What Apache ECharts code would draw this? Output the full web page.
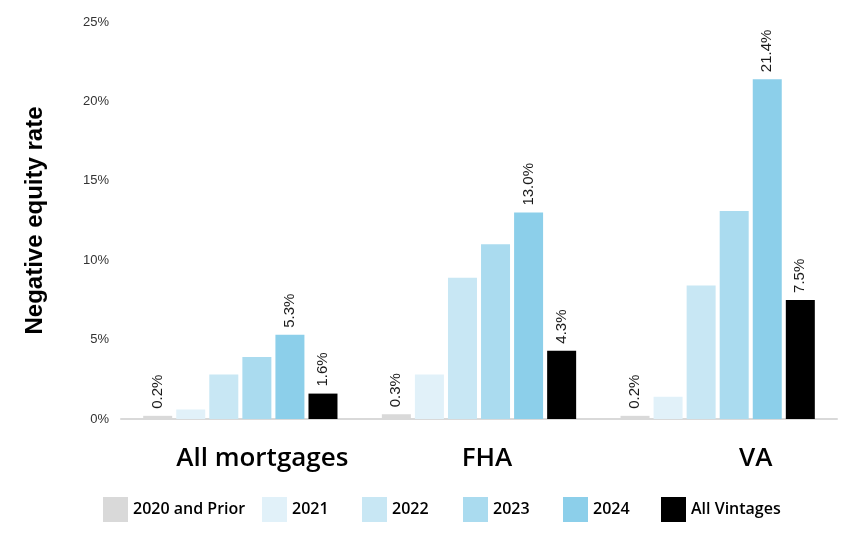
<!DOCTYPE html>
<html>
<head>
<meta charset="utf-8">
<script src="https://cdn.jsdelivr.net/npm/echarts@6/dist/echarts.min.js"></script>
<style>
  html, body { margin: 0; padding: 0; background: #fff; }
  #main { width: 847px; height: 551px; }
</style>
</head>
<body>
<div id="main"></div>
<script>
// chart data
var categories = ['All mortgages', 'FHA', 'VA'];
var vintages = ['2020 and Prior', '2021', '2022', '2023', '2024', 'All Vintages'];
var v2020 = [0.2, 0.3, 0.2];
var v2021 = [0.6, 2.8, 1.4];
var v2022 = [2.8, 8.9, 8.4];
var v2023 = [3.9, 11.0, 13.1];
var v2024 = [5.3, 13.0, 21.4];
var vAll = [1.6, 4.3, 7.5];
var yTicks = [0, 5, 10, 15, 20, 25];

var colors = ['#d9d9d9', '#e1f1f9', '#c8e7f4', '#aadbef', '#8ccfea', '#000000'];
var values = [v2020, v2021, v2022, v2023, v2024, vAll];
var withLabel = [true, false, false, false, true, true];
// left edge of each legend entry (one legend per entry so spacing can match)
var legendLeft = [98, 257, 357, 458, 558, 656];

var chart = echarts.init(document.getElementById('main'));

var series = vintages.map(function (name, i) {
  return {
    name: name,
    type: 'bar',
    data: values[i],
    barWidth: 29,
    barGap: '14%',
    itemStyle: { color: colors[i] },
    label: {
      show: withLabel[i],
      position: 'top',
      rotate: 90,
      align: 'left',
      verticalAlign: 'middle',
      distance: 7,
      fontFamily: 'Arial, Liberation Sans',
      fontSize: 15,
      color: '#1a1a1a',
      formatter: function (p) { return p.value.toFixed(1) + '%'; }
    }
  };
});

var legends = vintages.map(function (name, i) {
  return {
    data: [name],
    left: legendLeft[i],
    top: 492,
    itemWidth: 25,
    itemHeight: 25,
    icon: 'rect',
    textStyle: {
      fontFamily: 'Open Sans',
      fontWeight: 600,
      fontSize: 16,
      color: '#000'
    }
  };
});

var catStyle = function (pad) {
  return { fontFamily: 'Open Sans', fontWeight: 600, fontSize: 26, color: '#000', padding: [0, 0, 0, pad] };
};

var option = {
  animation: false,
  grid: { left: 121, right: 10, top: 22, bottom: 132 },
  legend: legends,
  xAxis: {
    type: 'category',
    data: categories,
    axisLine: { lineStyle: { color: '#d9d9d9', width: 2 } },
    axisTick: { show: false },
    axisLabel: {
      margin: 27,
      formatter: function (v, i) { return '{' + ['a', 'b', 'c'][i] + '|' + v + '}'; },
      rich: {
        a: catStyle(44),
        b: catStyle(16),
        c: catStyle(76)
      }
    }
  },
  yAxis: {
    type: 'value',
    min: yTicks[0],
    max: yTicks[yTicks.length - 1],
    interval: 5,
    name: 'Negative equity rate',
    nameLocation: 'middle',
    nameGap: 74,
    nameTextStyle: {
      fontFamily: 'Arial, Liberation Sans',
      fontWeight: 'bold',
      fontSize: 24,
      color: '#000'
    },
    splitLine: { show: false },
    axisLine: { show: false },
    axisTick: { show: false },
    axisLabel: {
      margin: 12,
      fontFamily: 'Arial, Liberation Sans',
      fontSize: 13,
      color: '#333',
      formatter: '{value}%'
    }
  },
  series: series
};

chart.setOption(option);
</script>
</body>
</html>
